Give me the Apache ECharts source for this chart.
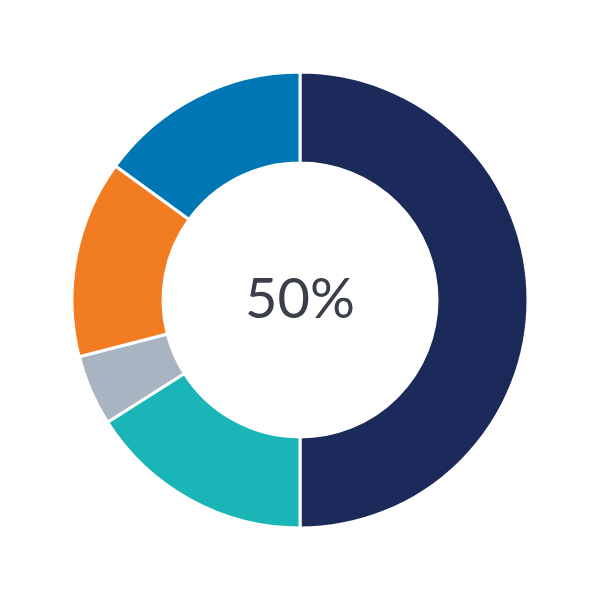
<!DOCTYPE html>
<html>
<head>
<meta charset="utf-8">
<script src="https://cdn.jsdelivr.net/npm/echarts@6/dist/echarts.min.js"></script>
<style>html,body{margin:0;padding:0;background:#fff;}#c{width:600px;height:600px;}</style>
</head>
<body>
<div id="c"></div>
<script>
var categories = ['A', 'B', 'C', 'D', 'E'];
var values = [50, 16, 5, 14, 15];
var colors = ['#1b2a5a', '#1ab5b6', '#a9b4c3', '#f27c22', '#0077b5'];
var centerLabel = '50%';

var chart = echarts.init(document.getElementById('c'), null, {renderer: 'canvas'});
chart.setOption({
  animation: false,
  graphic: [{
    type: 'text',
    left: 'center',
    top: 'middle',
    style: {text: centerLabel, fontFamily: 'Lato', fontSize: 56, fill: '#3a3f4b'}
  }],
  series: [{
    type: 'pie',
    center: [300, 300],
    radius: [137, 228],
    startAngle: 90,
    clockwise: true,
    label: {show: false},
    labelLine: {show: false},
    emphasis: {disabled: true},
    itemStyle: {borderColor: '#ffffff', borderWidth: 3},
    data: categories.map(function (c, i) {
      return {name: c, value: values[i], itemStyle: {color: colors[i]}};
    })
  }]
});
</script>
</body>
</html>
